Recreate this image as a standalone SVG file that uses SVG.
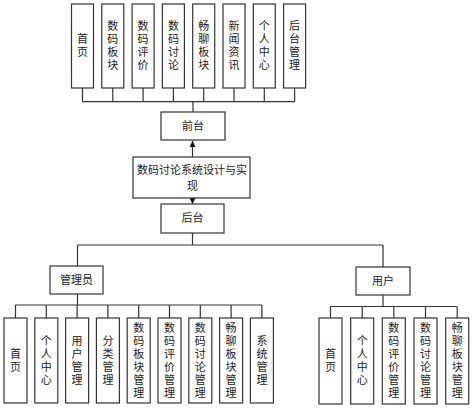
<svg xmlns="http://www.w3.org/2000/svg" width="474" height="411" viewBox="0 0 474 411">
<style>
.b{fill:#fff;stroke:#333;stroke-width:1.2}
.l{fill:none;stroke:#333;stroke-width:1.2}
text{font-family:"Noto Sans CJK SC","Liberation Sans",sans-serif;font-size:11px;fill:#222;text-anchor:middle}
.v{writing-mode:vertical-rl;letter-spacing:2px}
</style>
<defs>
<marker id="ah" viewBox="0 0 10 10" refX="10" refY="5" markerWidth="6" markerHeight="6" markerUnits="userSpaceOnUse" orient="auto"><path d="M0,0L10,5L0,10z" fill="#111"/></marker>
</defs>
<rect width="474" height="411" fill="#fff"/>
<g id="connectors">
<path class="l" d="M82.5,88V101.7M112.8,88V101.7M143.1,88V101.7M173.4,88V101.7M203.7,88V101.7M234,88V101.7M264.3,88V101.7M294.6,88V101.7M82.5,101.7H294.6M193,101.7V112"/>
<path class="l" d="M192.5,157V141" marker-end="url(#ah)"/>
<path class="l" d="M192.5,198V204" marker-end="url(#ah)"/>
<path class="l" d="M192.5,233V245M77.5,245H383M77.5,245V266M383,245V267"/>
<path class="l" d="M77.5,294V305M15.5,305H261.9M15.5,305V318M46.3,305V318M77.1,305V318M107.9,305V318M138.7,305V318M169.5,305V318M200.3,305V318M231.1,305V318M261.9,305V318"/>
<path class="l" d="M383,295V306.5M330.5,306.5H457.2M330.5,306.5V318M362.2,306.5V318M393.8,306.5V318M425.5,306.5V318M457.2,306.5V318"/>
</g>
<g id="f1"><rect class="b" x="71.5" y="4" width="22" height="84"/><text class="v" x="82.5" y="46">首页</text></g>
<g id="f2"><rect class="b" x="101.8" y="4" width="22" height="84"/><text class="v" x="112.8" y="46">数码板块</text></g>
<g id="f3"><rect class="b" x="132.1" y="4" width="22" height="84"/><text class="v" x="143.1" y="46">数码评价</text></g>
<g id="f4"><rect class="b" x="162.4" y="4" width="22" height="84"/><text class="v" x="173.4" y="46">数码讨论</text></g>
<g id="f5"><rect class="b" x="192.7" y="4" width="22" height="84"/><text class="v" x="203.7" y="46">畅聊板块</text></g>
<g id="f6"><rect class="b" x="223" y="4" width="22" height="84"/><text class="v" x="234" y="46">新闻资讯</text></g>
<g id="f7"><rect class="b" x="253.3" y="4" width="22" height="84"/><text class="v" x="264.3" y="46">个人中心</text></g>
<g id="f8"><rect class="b" x="283.6" y="4" width="22" height="84"/><text class="v" x="294.6" y="46">后台管理</text></g>
<g id="qiantai"><rect class="b" x="161" y="112" width="64" height="28"/><text x="193" y="130">前台</text></g>
<g id="main"><rect class="b" x="133" y="157" width="117" height="41"/><text x="192" y="174">数码讨论系统设计与实</text><text x="192.5" y="190">现</text></g>
<g id="houtai"><rect class="b" x="161" y="204" width="63" height="29"/><text x="192.5" y="222">后台</text></g>
<g id="admin"><rect class="b" x="50" y="266" width="53" height="28"/><text x="76.5" y="284">管理员</text></g>
<g id="user"><rect class="b" x="356" y="267" width="54" height="28"/><text x="383" y="285">用户</text></g>
<g id="a1"><rect class="b" x="4" y="318" width="23" height="85"/><text class="v" x="15.5" y="361">首页</text></g>
<g id="a2"><rect class="b" x="34.8" y="318" width="23" height="85"/><text class="v" x="46.3" y="361">个人中心</text></g>
<g id="a3"><rect class="b" x="65.6" y="318" width="23" height="85"/><text class="v" x="77.1" y="361">用户管理</text></g>
<g id="a4"><rect class="b" x="96.4" y="318" width="23" height="85"/><text class="v" x="107.9" y="361">分类管理</text></g>
<g id="a5"><rect class="b" x="127.2" y="318" width="23" height="85"/><text class="v" x="138.7" y="361">数码板块管理</text></g>
<g id="a6"><rect class="b" x="158" y="318" width="23" height="85"/><text class="v" x="169.5" y="361">数码评价管理</text></g>
<g id="a7"><rect class="b" x="188.8" y="318" width="23" height="85"/><text class="v" x="200.3" y="361">数码讨论管理</text></g>
<g id="a8"><rect class="b" x="219.6" y="318" width="23" height="85"/><text class="v" x="231.1" y="361">畅聊板块管理</text></g>
<g id="a9"><rect class="b" x="250.4" y="318" width="23" height="85"/><text class="v" x="261.9" y="361">系统管理</text></g>
<g id="u1"><rect class="b" x="319" y="318" width="23" height="86"/><text class="v" x="330.5" y="361">首页</text></g>
<g id="u2"><rect class="b" x="350.7" y="318" width="23" height="86"/><text class="v" x="362.2" y="361">个人中心</text></g>
<g id="u3"><rect class="b" x="382.3" y="318" width="23" height="86"/><text class="v" x="393.8" y="361">数码评价管理</text></g>
<g id="u4"><rect class="b" x="414" y="318" width="23" height="86"/><text class="v" x="425.5" y="361">数码讨论管理</text></g>
<g id="u5"><rect class="b" x="445.7" y="318" width="23" height="86"/><text class="v" x="457.2" y="361">畅聊板块管理</text></g>
</svg>
